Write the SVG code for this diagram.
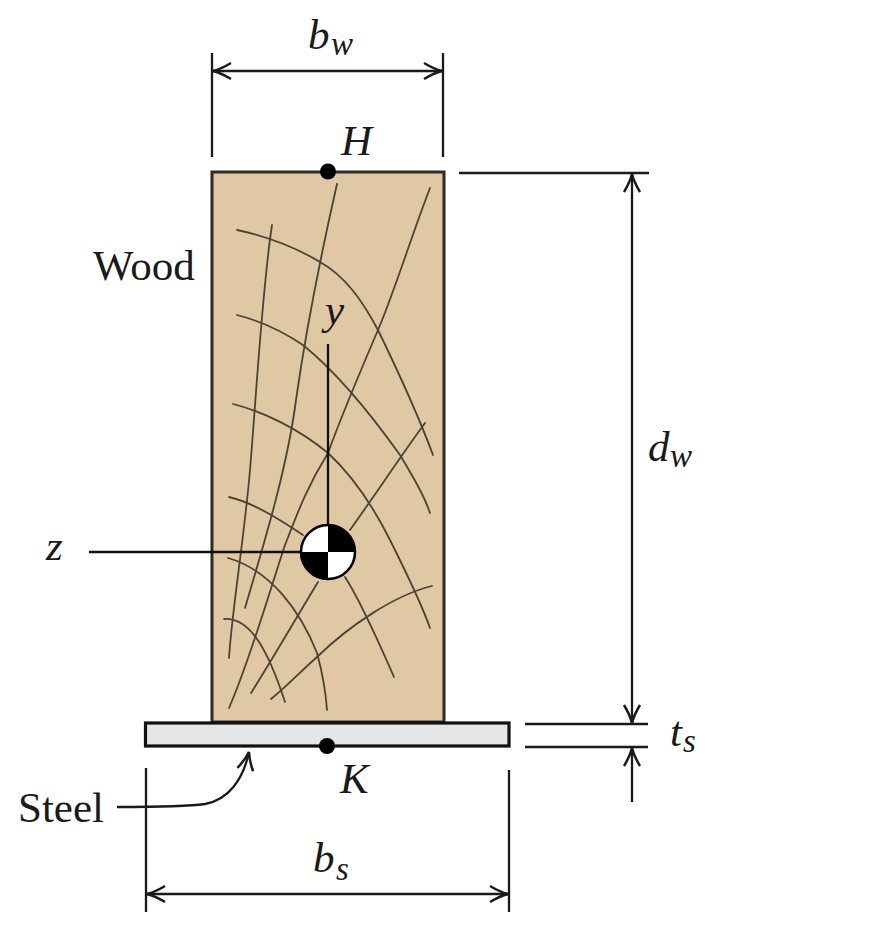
<svg xmlns="http://www.w3.org/2000/svg" width="872" height="952" viewBox="0 0 872 952">
<style>
text{font-family:"Liberation Serif","Times New Roman",serif;font-size:43px;fill:#1a1a1a}
.i{font-style:italic}
.s{font-style:italic;font-size:33px}
.g{fill:none;stroke:#4d4334;stroke-width:1.8;stroke-linecap:round}
.l{fill:none;stroke:#111;stroke-width:2.300}
.a{fill:none;stroke:#1a1a1a;stroke-width:2.300}
</style>
<defs>
<marker id="ar" viewBox="-20 -10 22 20" refX="0" refY="0" markerWidth="22" markerHeight="20" markerUnits="userSpaceOnUse" orient="auto-start-reverse">
<path d="M-18 -8 Q-8 -2 0 0 Q-8 2 -18 8" fill="none" stroke="#1a1a1a" stroke-width="2.500"/>
</marker>
</defs>
<rect width="872" height="952" fill="#fff"/>
<g id="wood">
<rect x="212" y="172" width="232" height="550" fill="#e0c8a4" stroke="#2e2a24" stroke-width="3"/>
<path class="g" d="M337 184C322 250 306 330 296 400C287 470 262 550 245 608"/>
<path class="g" d="M272 225C262 290 256 400 250 470C244 540 232 610 229 658"/>
<path class="g" d="M430 188C410 240 395 290 378 330C360 372 340 420 328 453C305 490 295 520 285 545C270 590 250 660 229 708"/>
<path class="g" d="M237 230C270 237 300 250 320 262C345 276 362 300 378 330C395 365 420 420 433 455"/>
<path class="g" d="M237 315C265 322 285 333 303 345C340 375 375 420 400 455C412 475 424 495 430 513"/>
<path class="g" d="M233 404C265 412 300 430 328 453C355 478 375 510 390 540C405 570 422 605 430 628"/>
<path class="g" d="M229 497C255 503 285 523 303 535"/>
<path class="g" d="M228 558C270 570 300 610 317 653C323 675 326 695 327 710"/>
<path class="g" d="M224 619C250 617 268 650 285 702"/>
<path class="g" d="M425 423C405 450 375 495 350 530"/>
<path class="g" d="M318 582C295 620 272 660 251 693"/>
<path class="g" d="M345 577C360 600 380 645 394 677"/>
<path class="g" d="M432 586C395 595 350 625 317 657C300 672 285 688 271 699"/>
<text x="93" y="280">Wood</text>
</g>
<g id="steel">
<rect x="145.500" y="723" width="363.500" height="23" fill="#e6e6e6" stroke="#111" stroke-width="3.200"/>
<text x="18" y="822">Steel</text>
</g>
<g id="point-h">
<circle cx="328" cy="171.500" r="8" fill="#000"/>
<text class="i" x="341" y="155">H</text>
</g>
<g id="point-k">
<circle cx="327" cy="746" r="8" fill="#000"/>
<text class="i" x="340" y="793">K</text>
</g>
<g id="axes">
<path class="l" d="M328 344V525M89 552H300"/>
<text class="i" x="325" y="324">y</text>
<text class="i" x="46" y="560">z</text>
</g>
<g id="centroid">
<circle cx="328" cy="552" r="27" fill="#fff" stroke="#000" stroke-width="2.500"/>
<path d="M328 552V525A27 27 0 0 1 355 552ZM328 552V579A27 27 0 0 1 301 552Z" fill="#000"/>
</g>
<g id="connectors">
<path class="a" d="M212 53V157M443 53V157M146 768V912M509 770V912M459 173H649M525 724H648M525 747H648"/>
<path class="a" d="M213 71H442" marker-start="url(#ar)" marker-end="url(#ar)"/>
<path class="a" d="M147 894H508" marker-start="url(#ar)" marker-end="url(#ar)"/>
<path class="a" d="M632 174V723" marker-start="url(#ar)" marker-end="url(#ar)"/>
<path class="a" d="M632 802V748" marker-end="url(#ar)"/>
<path class="a" d="M117 807C150 807 185 807 205 804C228 800 243 780 249 752" marker-end="url(#ar)"/>
</g>
<g id="dimensions">
<text class="i" x="308" y="49">b</text><text class="s" x="331" y="55">w</text>
<text class="i" x="313" y="872">b</text><text class="s" x="336" y="880">s</text>
<text class="i" x="648" y="461">d</text><text class="s" x="670" y="467">w</text>
<text class="i" x="670" y="746">t</text><text class="s" x="683" y="752">s</text>
</g>
</svg>
